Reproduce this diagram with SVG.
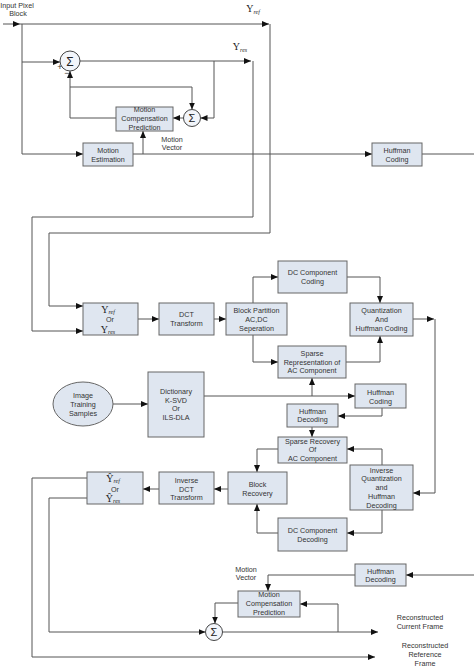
<svg xmlns="http://www.w3.org/2000/svg" width="474" height="668" viewBox="0 0 474 668">
<style>
.b{fill:#dfe6f0;stroke:#666;stroke-width:1}
.s{fill:#f2f5fa;stroke:#444;stroke-width:1}
.t{font-family:"Liberation Sans",Arial,sans-serif;font-size:7.2px;fill:#333;text-anchor:middle}
.ts{font-family:"Liberation Sans",Arial,sans-serif;font-size:7.2px;fill:#333}
.y{font-family:"Liberation Serif","Times New Roman",serif;font-size:10px;fill:#222;text-anchor:middle}
.sub{font-size:6px;font-style:italic}
.sg{font-family:"Liberation Sans",Arial,sans-serif;font-size:12px;fill:#222;text-anchor:middle}
.c path{fill:none;stroke:#555;stroke-width:1}
.c path.a{marker-end:url(#ah)}
</style>
<defs>
<marker id="ah" markerUnits="userSpaceOnUse" markerWidth="8" markerHeight="6" refX="7" refY="3" orient="auto">
<path d="M0,0 L7,3 L0,6 z" fill="#111"/>
</marker>
</defs>
<rect width="474" height="668" fill="#fff"/>

<g id="labels">
<text class="t" x="17" y="7.5">Input Pixel</text>
<text class="t" x="18" y="16">Block</text>
<text class="y" x="253" y="12">Y<tspan class="sub" dy="1.5">ref</tspan></text>
<text class="y" x="240" y="50">Y<tspan class="sub" dy="1.5">res</tspan></text>
<text class="t" x="172" y="141.5">Motion</text>
<text class="t" x="172" y="149.5">Vector</text>
<text class="t" x="60" y="70" style="font-size:9px">+</text>
<text class="t" x="67" y="76" style="font-size:9px">−</text>
<text class="t" x="246" y="572">Motion</text>
<text class="t" x="246" y="580">Vector</text>
<text class="t" x="420" y="620">Reconstructed</text>
<text class="t" x="420" y="629">Current Frame</text>
<text class="t" x="425" y="648">Reconstructed</text>
<text class="t" x="425" y="657">Reference</text>
<text class="t" x="425" y="666">Frame</text>
</g>

<g class="c" id="connectors">
<path class="a" d="M3,24 H20"/>
<path class="a" d="M20,24 H269"/>
<path class="a" d="M270,24 V233 H49 V306 H83"/>
<path class="a" d="M22,24 V154 H83"/>
<path class="a" d="M22,62 H60"/>
<path class="a" d="M80,61 H251"/>
<path class="a" d="M253,61 V217 H32 V331 H83"/>
<path class="a" d="M214,61 V118 H200.5"/>
<path class="a" d="M183.5,118 H173"/>
<path class="a" d="M116,118 H70 V71"/>
<path class="a" d="M70,87 H192 V109.5"/>
<path class="a" d="M133,154 H372"/>
<path d="M422,154 H474"/>
<path class="a" d="M143,154 V131"/>
<path class="a" d="M138,319 H159"/>
<path class="a" d="M214,319 H226"/>
<path class="a" d="M253,303 V277 H278"/>
<path class="a" d="M347,277 H380 V303"/>
<path class="a" d="M253,335 V362 H278"/>
<path class="a" d="M346,362 H380 V336"/>
<path class="a" d="M413,319 H434"/>
<path class="a" d="M435,319 V493 H413"/>
<path class="a" d="M113,404 H148"/>
<path class="a" d="M204,396 H355"/>
<path class="a" d="M312,396 V378"/>
<path class="a" d="M382,408 V416 H338"/>
<path class="a" d="M312,427 V437"/>
<path class="a" d="M382,465 V449 H347"/>
<path class="a" d="M278,449 H257 V472"/>
<path class="a" d="M382,510 V533 H347"/>
<path class="a" d="M278,533 H257 V504"/>
<path class="a" d="M228,489 H214"/>
<path class="a" d="M159,489 H143"/>
<path class="a" d="M87,478 H32 V657 H375"/>
<path class="a" d="M87,498 H49 V632 H205.5"/>
<path class="a" d="M222.5,632 H378"/>
<path class="a" d="M338,632 V604 H300"/>
<path class="a" d="M238,603 H215 V623.5"/>
<path class="a" d="M474,575 H406"/>
<path class="a" d="M355,575 H268 V591"/>
</g>

<g id="sum1"><circle class="s" cx="70" cy="61" r="10"/><text class="sg" x="70" y="65.5">Σ</text></g>
<g id="sum2"><circle class="s" cx="192" cy="118" r="8.5"/><text class="sg" x="192" y="122.3" style="font-size:11px">Σ</text></g>
<g id="sum3"><circle class="s" cx="214" cy="632" r="8.5"/><text class="sg" x="214" y="636.3" style="font-size:11px">Σ</text></g>

<g id="mcp1"><rect class="b" x="116" y="107" width="57" height="24"/>
<text class="t" x="144.5" y="111.5">Motion</text><text class="t" x="144.5" y="120.5">Compensation</text><text class="t" x="144.5" y="129.5">Prediction</text></g>
<g id="me"><rect class="b" x="83" y="143" width="50" height="23"/>
<text class="t" x="108" y="152.5">Motion</text><text class="t" x="108" y="161.5">Estimation</text></g>
<g id="hc1"><rect class="b" x="372" y="143" width="50" height="23"/>
<text class="t" x="397" y="152.5">Huffman</text><text class="t" x="397" y="161.5">Coding</text></g>

<g id="ybox"><rect class="b" x="83" y="303" width="55" height="32"/>
<text class="y" x="108" y="312.5">Y<tspan class="sub" dy="1.5">ref</tspan></text>
<text class="t" x="110" y="321.5">Or</text>
<text class="y" x="108" y="332.5">Y<tspan class="sub" dy="1.5">res</tspan></text></g>
<g id="dct"><rect class="b" x="159" y="303" width="55" height="32"/>
<text class="t" x="186.5" y="316.5">DCT</text><text class="t" x="186.5" y="325.5">Transform</text></g>
<g id="bp"><rect class="b" x="226" y="303" width="61" height="32"/>
<text class="t" x="256.5" y="312.5">Block Partition</text><text class="t" x="256.5" y="321.5">AC,DC</text><text class="t" x="256.5" y="330.5">Seperation</text></g>
<g id="dcc"><rect class="b" x="278" y="261" width="69" height="32"/>
<text class="t" x="312.5" y="274.5">DC Component</text><text class="t" x="312.5" y="283.5">Coding</text></g>
<g id="quant"><rect class="b" x="350" y="303" width="63" height="33"/>
<text class="t" x="381.5" y="312.5">Quantization</text><text class="t" x="381.5" y="321.5">And</text><text class="t" x="381.5" y="330.5">Huffman Coding</text></g>
<g id="sparse"><rect class="b" x="278" y="346" width="68" height="32"/>
<text class="t" x="312" y="355.5">Sparse</text><text class="t" x="312" y="364.5">Representation of</text><text class="t" x="312" y="373">AC Component</text></g>

<g id="its"><ellipse class="b" cx="83" cy="404" rx="30" ry="22"/>
<text class="t" x="83" y="397.5">Image</text><text class="t" x="83" y="406.5">Training</text><text class="t" x="83" y="415.5">Samples</text></g>
<g id="dict"><rect class="b" x="148" y="372" width="56" height="65"/>
<text class="t" x="176" y="393.5">Dictionary</text><text class="t" x="176" y="402.5">K-SVD</text><text class="t" x="176" y="411">Or</text><text class="t" x="176" y="419.5">ILS-DLA</text></g>
<g id="hc2"><rect class="b" x="355" y="384" width="51" height="24"/>
<text class="t" x="380.5" y="394.5">Huffman</text><text class="t" x="380.5" y="403.5">Coding</text></g>
<g id="hd1"><rect class="b" x="287" y="404" width="51" height="23"/>
<text class="t" x="312.5" y="413.5">Huffman</text><text class="t" x="312.5" y="421.5">Decoding</text></g>
<g id="sr"><rect class="b" x="278" y="437" width="69" height="26"/>
<text class="t" x="312.5" y="443.5">Sparse Recovery</text><text class="t" x="312.5" y="451.5">Of</text><text class="t" x="312.5" y="460.5">AC Component</text></g>
<g id="iq"><rect class="b" x="350" y="465" width="63" height="45"/>
<text class="t" x="381.5" y="472.5">Inverse</text><text class="t" x="381.5" y="481">Quantization</text><text class="t" x="381.5" y="489.5">and</text><text class="t" x="381.5" y="498.5">Huffman</text><text class="t" x="381.5" y="507.5">Decoding</text></g>
<g id="br"><rect class="b" x="228" y="472" width="59" height="32"/>
<text class="t" x="257.5" y="486.5">Block</text><text class="t" x="257.5" y="495.5">Recovery</text></g>
<g id="dcd"><rect class="b" x="278" y="518" width="69" height="33"/>
<text class="t" x="312.5" y="532.5">DC Component</text><text class="t" x="312.5" y="541.5">Decoding</text></g>
<g id="idct"><rect class="b" x="159" y="472" width="55" height="32"/>
<text class="t" x="186.5" y="482.5">Inverse</text><text class="t" x="186.5" y="491.5">DCT</text><text class="t" x="186.5" y="500">Transform</text></g>
<g id="yhat"><rect class="b" x="87" y="472" width="56" height="32"/>
<text class="y" x="113" y="481.5">Ŷ<tspan class="sub" dy="1.5">ref</tspan></text>
<text class="t" x="115" y="491.5">Or</text>
<text class="y" x="113" y="501.5">Ŷ<tspan class="sub" dy="1.5">res</tspan></text></g>
<g id="hd2"><rect class="b" x="355" y="564" width="51" height="22"/>
<text class="t" x="380.5" y="573.5">Huffman</text><text class="t" x="380.5" y="581.5">Decoding</text></g>
<g id="mcp2"><rect class="b" x="238" y="591" width="62" height="26"/>
<text class="t" x="269" y="596.5">Motion</text><text class="t" x="269" y="605.5">Compensation</text><text class="t" x="269" y="614.5">Prediction</text></g>
</svg>
